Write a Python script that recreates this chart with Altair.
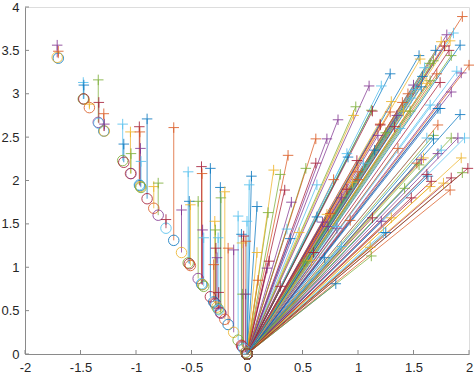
import altair as alt
import pandas as pd

# MATLAB default colour order
palette = ["#0072BD", "#D95319", "#EDB120", "#7E2F8E", "#77AC30", "#4DBEEE", "#A2142F"]

# Left branch: circle at (x, y0), plus at (x, y1)
left_x = [-1.70, -1.71, -1.475, -1.47, -1.42, -1.34, -1.335, -1.29, -1.285, -1.12, -1.11, -1.05, -1.045,
          -0.97, -0.965, -0.96, -0.955, -0.90, -0.84, -0.80, -0.73, -0.66, -0.59, -0.53, -0.52, -0.51,
          -0.44, -0.41, -0.405, -0.40, -0.39, -0.33, -0.29, -0.285, -0.28, -0.30, -0.27, -0.26, -0.24,
          -0.20, -0.235, -0.255, -0.17, -0.12, -0.08, -0.05, -0.045, -0.04, -0.03, -0.01, -0.012]
left_y0 = [3.41, 3.42, 2.94, 2.94, 2.84, 2.67, 2.66, 2.57, 2.57, 2.23, 2.21, 2.08, 2.08,
           1.95, 1.94, 1.93, 1.92, 1.79, 1.68, 1.60, 1.45, 1.31, 1.17, 1.05, 1.04, 1.02,
           0.87, 0.81, 0.80, 0.80, 0.78, 0.66, 0.59, 0.58, 0.56, 0.60, 0.54, 0.52, 0.48,
           0.40, 0.47, 0.51, 0.34, 0.25, 0.16, 0.10, 0.09, 0.08, 0.06, 0.02, 0.02]
left_y1 = [3.49, 3.56, 3.13, 3.10, 2.88, 3.16, 2.90, 2.77, 2.65, 2.65, 2.42, 2.56, 2.31,
           2.62, 2.56, 2.37, 2.22, 2.71, 1.93, 1.97, 1.55, 2.61, 1.66, 2.10, 1.76, 1.72,
           1.76, 2.16, 2.08, 1.43, 1.34, 2.14, 1.53, 1.43, 1.22, 1.03, 1.11, 1.34, 1.92,
           1.87, 1.80, 0.71, 1.22, 1.20, 1.59, 1.38, 1.28, 0.69, 1.36, 1.30, 0.69]

# Right branch: circle at the origin, plus at (x, y)
right_x = [0.00, 0.09, 0.09, 0.19, 0.20, 0.10, 0.18, 0.02, 0.04,
           0.24, 0.30, 0.34, 0.37, 0.40, 0.36, 0.39, 0.47,
           0.53, 0.62, 0.62, 0.72, 0.63, 0.63, 0.72, 0.54, 0.60,
           0.78, 0.82, 0.90, 0.91, 0.96, 0.98, 0.99, 1.00,
           1.10, 1.21, 1.29, 1.30, 1.12, 1.13,
           0.93, 0.81, 0.85, 0.80, 1.11, 1.12, 1.13, 1.20, 1.21, 1.23, 1.25, 1.30,
           1.42, 1.48, 1.53, 1.57, 1.62, 1.63, 1.65, 1.68, 1.66, 1.72, 1.72, 1.75, 1.74, 1.77,
           1.84, 1.84, 1.83, 1.90, 1.96, 1.92, 1.93, 1.94, 1.99,
           1.94, 1.80, 1.86, 1.92, 1.83, 1.84, 1.82, 2.00, 1.93, 1.89, 1.55, 1.56,
           1.65, 1.74, 1.71, 1.84, 1.65, 1.72, 1.41, 1.47, 1.20, 1.29, 1.18, 1.38, 1.68,
           1.59, 1.55, 1.62, 1.36, 0.73, 0.81, 0.70, 0.58, 0.51, 0.30,
           1.45, 1.50, 1.60, 1.70, 1.75, 1.65, 1.78, 1.40, 1.35, 1.52, 1.58, 1.62, 1.68,
           0.90, 1.00, 0.85, 1.05, 1.15, 0.95, 1.25, 1.33, 0.75, 0.68, 1.48, 1.57]
right_y = [1.53, 1.70, 1.17, 1.63, 1.07, 0.85, 0.99, 1.95, 2.05,
           2.12, 2.07, 1.89, 2.29, 1.75, 1.44, 1.33, 1.40,
           2.14, 2.20, 2.48, 2.48, 1.95, 1.58, 1.61, 1.07, 1.17,
           2.01, 2.70, 2.31, 2.27, 2.75, 2.85, 2.23, 2.01,
           3.09, 3.09, 3.23, 2.91, 2.81, 2.80,
           1.54, 1.45, 1.24, 0.81, 1.23, 1.13, 1.57, 2.65, 1.53, 1.40, 1.40, 1.57,
           1.91, 1.80, 2.20, 2.24, 2.49, 2.05, 1.93, 2.52, 1.99, 2.64, 2.31, 2.35, 2.83, 1.97,
           2.49, 2.03, 1.89, 2.49, 2.49, 2.76, 2.26, 2.09, 2.14,
           3.89, 3.68, 3.70, 3.56, 3.61, 3.44, 3.50, 3.33, 3.24, 3.26, 3.44, 3.40,
           3.15, 3.13, 3.23, 3.02, 2.87, 2.83, 2.80, 2.80, 2.64, 2.79, 2.52, 2.60, 2.48,
           2.26, 2.18, 2.07, 2.37, 1.47, 1.47, 1.11, 1.08, 1.05, 0.78,
           3.00, 3.10, 3.30, 3.50, 3.60, 3.35, 3.55, 2.90, 2.75, 3.05, 3.20, 3.12, 3.38,
           1.90, 2.10, 1.80, 2.20, 2.35, 1.98, 2.55, 2.62, 1.62, 1.52, 2.95, 3.08]

x_ticks = [-2, -1.5, -1, -0.5, 0, 0.5, 1, 1.5, 2]
y_ticks = [0, 0.5, 1, 1.5, 2, 2.5, 3, 3.5, 4]

rows = []
for i in range(len(left_x)):
    rows.append({"x0": left_x[i], "y0": left_y0[i], "x1": left_x[i], "y1": left_y1[i]})
for i in range(len(right_x)):
    rows.append({"x0": 0.0, "y0": 0.0, "x1": right_x[i], "y1": right_y[i]})
df = pd.DataFrame(rows)
df["cc"] = [str((2 * k) % 7) for k in range(len(df))]
df["cl"] = [str((2 * k + 1) % 7) for k in range(len(df))]

W, H = 444, 347
xs = alt.Scale(domain=[-2, 2], nice=False, zero=False)
ys = alt.Scale(domain=[0, 4], nice=False, zero=False)
cscale = alt.Scale(domain=[str(i) for i in range(7)], range=palette)

xaxis = alt.Axis(values=x_ticks, labelExpr="'' + datum.value", title=None, grid=False,
                 ticks=False, labelPadding=7, domainColor="#8a8a8a", labelColor="#262626",
                 labelFont="Liberation Sans", labelFontSize=13, labelFlush=False, labelOverlap=False)
yaxis = alt.Axis(values=y_ticks, labelExpr="'' + datum.value", title=None, grid=False,
                 ticks=False, labelPadding=6, domainColor="#8a8a8a", labelColor="#262626",
                 labelFont="Liberation Sans", labelFontSize=13, labelFlush=False, labelOverlap=False)

base = alt.Chart(df)

lines = base.mark_rule(strokeWidth=0.9, opacity=0.8).encode(
    x=alt.X("x0:Q", scale=xs, axis=xaxis),
    y=alt.Y("y0:Q", scale=ys, axis=yaxis),
    x2="x1:Q", y2="y1:Q",
    color=alt.Color("cl:N", scale=cscale, legend=None),
)

circles = base.mark_point(shape="circle", filled=False, size=110, strokeWidth=1, opacity=0.8).encode(
    x=alt.X("x0:Q", scale=xs), y=alt.Y("y0:Q", scale=ys),
    color=alt.Color("cc:N", scale=cscale, legend=None),
)

pluses = base.mark_point(shape="M-1,0H1M0,-1V1", filled=False, size=110, strokeWidth=1, opacity=0.8).encode(
    x=alt.X("x1:Q", scale=xs), y=alt.Y("y1:Q", scale=ys),
    color=alt.Color("cl:N", scale=cscale, legend=None),
)

xt = alt.Chart(pd.DataFrame({"t": x_ticks})).mark_rule(color="#8a8a8a", strokeWidth=1).encode(
    x=alt.X("t:Q", scale=xs), y=alt.value(H), y2=alt.value(H - 4))
yt = alt.Chart(pd.DataFrame({"t": y_ticks})).mark_rule(color="#8a8a8a", strokeWidth=1).encode(
    y=alt.Y("t:Q", scale=ys), x=alt.value(0), x2=alt.value(4))

chart = alt.layer(lines, circles, pluses, xt, yt).properties(
    width=W, height=H,
    autosize=alt.AutoSizeParams(type="none"),
    padding={"left": 25, "top": 7, "right": 5, "bottom": 21},
).configure_view(stroke=None).configure(background="white")

chart.save("out.html", embed_options={"renderer": "svg", "actions": False})
